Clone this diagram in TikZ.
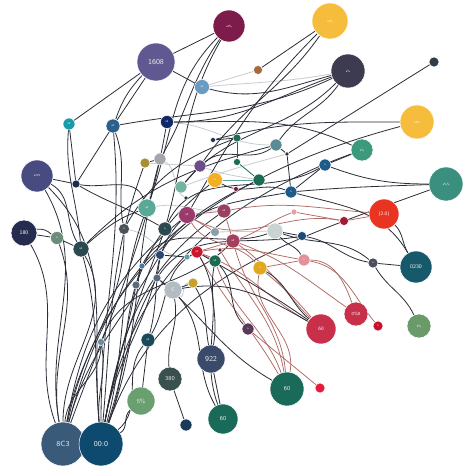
\documentclass[tikz,border=0pt]{standalone}
\usetikzlibrary{backgrounds}
\definecolor{cA}{HTML}{7D1B4B}\definecolor{cB}{HTML}{F6BD3D}\definecolor{cC}{HTML}{5F5891}
\definecolor{cD}{HTML}{3C3B4F}\definecolor{cE}{HTML}{2E3D4C}\definecolor{cF}{HTML}{A56B3E}
\definecolor{cG}{HTML}{6A9BC3}\definecolor{cI}{HTML}{1B9AAA}\definecolor{cJ}{HTML}{2D5F8B}
\definecolor{cK}{HTML}{10296B}\definecolor{cL}{HTML}{3B9A7C}\definecolor{cM}{HTML}{474B80}
\definecolor{cN}{HTML}{1B2D4C}\definecolor{cO}{HTML}{A88F34}\definecolor{cP}{HTML}{A3A7AA}
\definecolor{cQ}{HTML}{6A4D89}\definecolor{cR}{HTML}{F0B021}\definecolor{cS}{HTML}{74B3A2}
\definecolor{cT}{HTML}{1F2E55}\definecolor{cU}{HTML}{1D6B55}\definecolor{cW}{HTML}{5B8C93}
\definecolor{cY}{HTML}{1E5A8A}\definecolor{cZ}{HTML}{3A8F7F}\definecolor{cAC}{HTML}{5AA898}
\definecolor{cAD}{HTML}{9A3B6B}\definecolor{cAE}{HTML}{9A4162}\definecolor{cAF}{HTML}{7A1A3A}
\definecolor{cAH}{HTML}{EA3422}\definecolor{cAI}{HTML}{A31B30}\definecolor{cAJ}{HTML}{E8A0A8}
\definecolor{cAK}{HTML}{252C4F}\definecolor{cAL}{HTML}{6C8C7C}\definecolor{cAM}{HTML}{2A4A50}
\definecolor{cAN}{HTML}{4B5258}\definecolor{cAP}{HTML}{8AA0A8}\definecolor{cAQ}{HTML}{A3405F}
\definecolor{cAR}{HTML}{C9D3D2}\definecolor{cAS}{HTML}{1D4A72}\definecolor{cAT}{HTML}{C8192F}
\definecolor{cAU}{HTML}{1E6A50}\definecolor{cAW}{HTML}{2A4775}\definecolor{cAX}{HTML}{5AA0B0}
\definecolor{cAY}{HTML}{4A7AA0}\definecolor{cAZ}{HTML}{E1A71F}\definecolor{cBA}{HTML}{E2919B}
\definecolor{cBB}{HTML}{4A4E5A}\definecolor{cBC}{HTML}{16596A}\definecolor{cBD}{HTML}{B3BCC2}
\definecolor{cBE}{HTML}{C9A02F}\definecolor{cBF}{HTML}{5A6A7A}\definecolor{cBH}{HTML}{C8304A}
\definecolor{cBI}{HTML}{C8102A}\definecolor{cBK}{HTML}{6A9A6A}\definecolor{cBL}{HTML}{5A3A5A}
\definecolor{cBM}{HTML}{1A4A5A}\definecolor{cBN}{HTML}{6A8AA0}\definecolor{cBO}{HTML}{3A4A6A}
\definecolor{cBP}{HTML}{3A5050}\definecolor{cBQ}{HTML}{6AA070}\definecolor{cBR}{HTML}{1A6A5A}
\definecolor{cBS}{HTML}{E81A3A}\definecolor{cBU}{HTML}{1A3A5A}\definecolor{cBV}{HTML}{3A5A7A}
\definecolor{cBW}{HTML}{0E4A70}
\definecolor{edc}{HTML}{2B2D38}\definecolor{egc}{HTML}{C8CCCE}\definecolor{erc}{HTML}{B06A66}
\begin{document}
\begin{tikzpicture}[x=1pt,y=1pt,
  nd/.style={circle,draw=white,line width=0.5pt,inner sep=0pt,text=white,font=\sffamily\fontsize{3}{3}\selectfont},
  bigtxt/.style={font=\sffamily\fontsize{7.5}{8}\selectfont,text=white!85!gray},
  ed/.style={draw=edc,line width=0.8pt},
  eg/.style={draw=egc,line width=0.8pt},
  er/.style={draw=erc,line width=0.75pt}]
\useasboundingbox (0,0) rectangle (474,474);
% nodes
\node[nd,fill=cA,minimum size=32] (A) at (229,448) {a1\%};
\node[nd,fill=cB,minimum size=36] (B) at (330,453) {a1\%};
\node[nd,fill=cC,minimum size=38,bigtxt] (C) at (156,412) {1608};
\node[nd,fill=cD,minimum size=34] (D) at (348,403) {a\%};
\node[nd,fill=cE,minimum size=10] (E) at (434,412) {};
\node[nd,fill=cF,minimum size=9] (F) at (258,404) {};
\node[nd,fill=cG,minimum size=15] (G) at (202,387) {a1};
\node[nd,fill=cB,minimum size=34] (H) at (417,352) {a1\%};
\node[nd,fill=cI,minimum size=12] (I) at (69,350) {a1};
\node[nd,fill=cJ,minimum size=14] (J) at (113,348) {a1};
\node[nd,fill=cK,minimum size=13] (K) at (167,352) {a1};
\node[nd,fill=cL,minimum size=22] (L) at (362,324) {a\%};
\node[nd,fill=cM,minimum size=32] (M) at (37,298) {a175};
\node[nd,fill=cN,minimum size=8] (N) at (76,290) {};
\node[nd,fill=cO,minimum size=10] (O) at (145,311) {};
\node[nd,fill=cP,minimum size=12] (P) at (160,315) {};
\node[nd,fill=cQ,minimum size=12] (Q) at (200,308) {};
\node[nd,fill=cR,minimum size=15] (R) at (215,294) {a};
\node[nd,fill=cS,minimum size=12] (S) at (181,287) {};
\node[nd,fill=cT,minimum size=5] (T) at (213,334) {};
\node[nd,fill=cU,minimum size=8] (U) at (237,336) {};
\node[nd,fill=cU,minimum size=7] (V) at (237,312) {};
\node[nd,fill=cW,minimum size=12] (W) at (276,329) {};
\node[nd,fill=edc,minimum size=4] (X) at (287,320) {};
\node[nd,fill=cY,minimum size=12] (Y) at (325,309) {a};
\node[nd,fill=cZ,minimum size=34] (Z) at (446,290) {a\%\%};
\node[nd,fill=cU,minimum size=12] (AA) at (259,294) {};
\node[nd,fill=cY,minimum size=12] (AB) at (291,282) {a};
\node[nd,fill=cAC,minimum size=18] (AC) at (147,266) {a1};
\node[nd,fill=cAD,minimum size=17] (AD) at (187,259) {a1};
\node[nd,fill=cAE,minimum size=14] (AE) at (224,263) {a1};
\node[nd,fill=cAF,minimum size=5] (AF) at (236,285) {};
\node[nd,fill=edc,minimum size=4] (AG) at (186,276) {};
\node[nd,fill=cAH,minimum size=30,font=\sffamily\fontsize{5}{5}\selectfont] (AH) at (384,260) {(2.0)};
\node[nd,fill=cAI,minimum size=9] (AI) at (344,253) {};
\node[nd,fill=cAJ,minimum size=6] (AJ) at (294,262) {};
\node[nd,fill=cAK,minimum size=26,font=\sffamily\fontsize{5.5}{6}\selectfont] (AK) at (24,241) {180};
\node[nd,fill=cAL,minimum size=13] (AL) at (57,236) {a};
\node[nd,fill=cAM,minimum size=16] (AM) at (81,225) {a1};
\node[nd,fill=cAN,minimum size=11] (AN) at (124,245) {a};
\node[nd,fill=cAM,minimum size=14] (AO) at (165,245) {a};
\node[nd,fill=cAP,minimum size=9] (AP) at (215,242) {};
\node[nd,fill=cAQ,minimum size=14] (AQ) at (233,233) {a1};
\node[nd,fill=cAR,minimum size=16] (AR) at (275,243) {};
\node[nd,fill=cAS,minimum size=9] (AS) at (302,238) {};
\node[nd,fill=cAT,minimum size=12] (AT) at (197,222) {a1};
\node[nd,fill=cAU,minimum size=12] (AU) at (215,213) {a1};
\node[nd,fill=cAF,minimum size=4] (AV) at (220,224) {};
\node[nd,fill=cAW,minimum size=9] (AW) at (160,219) {};
\node[nd,fill=cAX,minimum size=6] (AX) at (187,217) {};
\node[nd,fill=cAY,minimum size=6] (AY) at (142,208) {};
\node[nd,fill=cAZ,minimum size=14] (AZ) at (260,206) {a};
\node[nd,fill=cBA,minimum size=12] (BA) at (304,214) {a};
\node[nd,fill=cBB,minimum size=10] (BB) at (373,211) {a};
\node[nd,fill=cBC,minimum size=32,font=\sffamily\fontsize{5.5}{6}\selectfont] (BC) at (416,207) {0230};
\node[nd,fill=cBD,minimum size=18,font=\sffamily\fontsize{5}{5}\selectfont] (BD) at (173,184) {C};
\node[nd,fill=cBE,minimum size=10] (BE) at (193,191) {};
\node[nd,fill=cBF,minimum size=8] (BF) at (157,196) {};
\node[nd,fill=cBF,minimum size=8] (BG) at (136,189) {};
\node[nd,fill=cBH,minimum size=24,font=\sffamily\fontsize{4.5}{5}\selectfont] (BH) at (356,160) {0\%0};
\node[nd,fill=cBI,minimum size=10] (BI) at (378,148) {a};
\node[nd,fill=cBH,minimum size=30,font=\sffamily\fontsize{5}{5}\selectfont] (BJ) at (321,145) {60};
\node[nd,fill=cBK,minimum size=24] (BK) at (419,148) {5\%};
\node[nd,fill=cBL,minimum size=12] (BL) at (248,145) {a};
\node[nd,fill=cBM,minimum size=14] (BM) at (148,134) {a1};
\node[nd,fill=cBN,minimum size=7] (BN) at (101,132) {};
\node[nd,fill=cBO,minimum size=28,bigtxt] (BO) at (211,115) {922};
\node[nd,fill=cBP,minimum size=24,font=\sffamily\fontsize{6}{6}\selectfont,text=white!85!gray] (BP) at (170,95) {380};
\node[nd,fill=cBQ,minimum size=28,font=\sffamily\fontsize{6}{6}\selectfont,text=white!85!gray] (BQ) at (141,73) {5\%};
\node[nd,fill=cBR,minimum size=34,font=\sffamily\fontsize{6}{6}\selectfont,text=white!85!gray] (BR) at (287,85) {60};
\node[nd,fill=cBS,minimum size=10] (BS) at (320,86) {};
\node[nd,fill=cBR,minimum size=30,font=\sffamily\fontsize{6}{6}\selectfont,text=white!85!gray] (BT) at (223,55) {60};
\node[nd,fill=cBU,minimum size=12] (BU) at (186,49) {};
\node[nd,fill=cBV,minimum size=44,bigtxt] (BV) at (63,30) {8C3};
\node[nd,fill=cBW,minimum size=44,bigtxt] (BW) at (101,30) {00:0};
% edges
\begin{scope}[on background layer]
\fill[white] (0,0) rectangle (474,474);
% gray
\draw[eg] (F) -- (G);
\draw[eg] (D) to[out=190,in=5] (G);
\draw[eg] (P) -- (AC);
\draw[eg] (O) -- (Q);
\draw[eg] (X) to[out=195,in=20] (S);
\draw[eg] (AP) -- (AR);
\draw[eg] (K) to[out=-5,in=180] (W);
\draw[eg] (P) to[out=-30,in=150] (AG);
\draw[eg] (AC) to[out=10,in=180] (AE);
\draw[eg] (AN) to[out=-10,in=180] (AX);
\draw[eg] (BD) to[out=-40,in=180] (BE);
\draw[eg] (Q) to[out=-20,in=170] (AA);
% dark top
\draw[ed] (C) -- (A);
\draw[ed] (C) -- (I);
\draw[ed] (C) -- (J);
\draw[ed] (C) to[bend right=12] (J);
\draw[ed] (C) -- (G);
\draw[ed] (A) to[out=235,in=60] (P);
\draw[ed] (A) to[out=240,in=75] (AO);
\draw[ed] (A) to[out=225,in=70] (AC);
\draw[ed] (B) -- (F);
\draw[ed] (B) to[out=225,in=60] (AD);
\draw[ed] (B) to[out=235,in=55] (Q);
\draw[ed] (D) to[out=195,in=-15] (G);
\draw[ed] (D) to[out=200,in=0] (K);
\draw[ed] (D) to[out=205,in=10] (J);
\draw[ed] (D) to[out=235,in=55] (W);
\draw[ed] (D) to[out=225,in=50] (S);
\draw[ed] (E) -- (X);
\draw[ed] (X) -- (AB);
\draw[ed] (X) -- (W);
\draw[ed] (H) to[out=180,in=15] (T);
\draw[ed] (L) to[out=155,in=0] (K);
\draw[ed] (Y) -- (L);
\draw[ed] (Y) -- (AB);
\draw[ed] (Y) to[out=-20,in=180] (Z);
\draw[ed] (AB) to[out=5,in=182] (Z);
\draw[ed] (W) to[out=215,in=40] (Q);
\draw[ed] (U) -- (T);
\draw[ed,draw=cU] (U) -- (V);
\draw[ed,draw=cU] (V) -- (AA);
\draw[ed,draw=cAC] (AA) -- (R);
\draw[ed] (O) -- (P);
\draw[ed] (Q) -- (S);
\draw[ed] (R) to[out=-30,in=160] (AB);
% left
\draw[ed] (I) -- (N);
\draw[ed] (J) -- (N);
\draw[ed] (M) -- (N);
\draw[ed] (N) to[out=-10,in=110] (AC);
\draw[ed] (N) to[out=-30,in=150] (AO);
\draw[ed] (J) to[out=-70,in=100] (AN);
\draw[ed] (J) to[out=-85,in=90] (BW);
\draw[ed] (I) to[out=-95,in=95] (AM);
\draw[ed] (M) to[out=-60,in=100] (BV);
\draw[ed] (M) to[out=-30,in=120] (AM);
\draw[ed] (M) to[out=-45,in=95] (BW);
\draw[ed] (AK) -- (AL);
\draw[ed] (AL) -- (AM);
\draw[ed] (AK) to[bend left=25] (AL);
\draw[ed] (AK) to[out=-60,in=110] (BV);
\draw[ed] (AL) to[out=-70,in=100] (BV);
\draw[ed] (AM) to[out=-75,in=95] (BW);
\draw[ed] (AM) to[out=-60,in=90] (BV);
\draw[ed] (AM) to[out=40,in=200] (AC);
\draw[ed] (AN) to[out=-90,in=80] (BV);
\draw[ed] (AO) to[out=-110,in=80] (BW);
\draw[ed] (AC) to[out=-110,in=75] (BW);
\draw[ed] (AW) to[out=-120,in=75] (BV);
\draw[ed] (K) to[out=-100,in=70] (BV);
\draw[ed] (P) to[out=-105,in=70] (BW);
\draw[ed] (AY) to[out=-110,in=70] (BW);
\draw[ed] (BF) to[out=-120,in=72] (BW);
\draw[ed] (BG) to[out=-100,in=80] (BW);
\draw[ed] (BN) to[out=-90,in=85] (BV);
\draw[ed] (BN) to[out=-80,in=95] (BW);
\draw[ed] (O) to[out=-110,in=85] (BW);
\draw[ed] (AW) to[out=-100,in=80] (BW);
% sweeping arcs
\draw[ed] (BW) to[out=80,in=200] (L);
\draw[ed] (BV) to[out=78,in=195] (H);
\draw[ed] (BW) to[out=70,in=200] (Z);
\draw[ed] (AM) to[out=45,in=195] (W);
\draw[ed] (AN) to[out=60,in=200] (U);
\draw[ed] (AO) to[out=65,in=210] (Y);
\draw[ed] (AW) to[out=60,in=190] (AB);
\draw[ed] (AY) to[out=65,in=200] (AR);
\draw[ed] (BF) to[out=55,in=190] (AS);
\draw[ed] (BG) to[out=70,in=220] (R);
\draw[ed] (BW) to[out=80,in=215] (AE);
\draw[ed] (BV) to[out=80,in=220] (AD);
\draw[ed] (BN) to[out=70,in=225] (AQ);
\draw[ed] (BV) to[out=75,in=205] (AA);
\draw[ed] (AW) -- (AX);
\draw[ed] (AX) -- (AT);
\draw[ed] (BF) -- (BD);
\draw[ed] (BE) -- (BD);
% red / reddish
\draw[er] (AD) -- (AE);
\draw[er] (AD) -- (AP);
\draw[er] (AE) -- (AQ);
\draw[er] (AE) to[out=10,in=175] (AH);
\draw[er] (AI) -- (AH);
\draw[er] (AJ) -- (AI);
\draw[er] (AQ) to[out=20,in=200] (AJ);
\draw[er] (AQ) to[out=-20,in=145] (BH);
\draw[er] (AQ) to[out=-35,in=135] (BJ);
\draw[er] (AT) to[out=-20,in=150] (BJ);
\draw[er] (AT) -- (AQ);
\draw[er] (AT) to[out=10,in=170] (BA);
\draw[er] (AZ) -- (BA);
\draw[er] (AZ) to[out=-40,in=130] (BJ);
\draw[er] (BA) to[out=0,in=110] (BH);
\draw[er] (BA) to[out=-10,in=130] (BI);
\draw[er] (AD) to[out=-30,in=170] (AI);
\draw[er] (AU) to[out=-70,in=110] (BR);
\draw[er] (AV) to[out=-60,in=100] (BR);
\draw[er] (AT) to[out=-60,in=120] (BR);
\draw[er] (AQ) to[out=-75,in=95] (BR);
\draw[er] (AZ) to[out=-100,in=80] (BR);
\draw[er] (BL) -- (BS);
\draw[er] (AT) -- (AU);
\draw[er] (AD) to[out=-60,in=130] (AZ);
% dark right-middle
\draw[ed] (AR) -- (AS);
\draw[ed] (AS) to[out=-10,in=170] (BB);
\draw[ed] (BB) -- (BC);
\draw[ed] (AR) to[out=-50,in=120] (BA);
\draw[ed] (BB) to[out=-60,in=115] (BK);
\draw[ed] (AH) to[out=-45,in=120] (BC);
\draw[ed] (AB) to[out=-15,in=120] (BC);
\draw[ed] (AR) to[out=-20,in=140] (BB);
\draw[ed] (AZ) to[out=-30,in=140] (BJ);
\draw[ed] (AT) to[out=-30,in=145] (BJ);
\draw[ed] (BD) to[out=10,in=150] (BJ);
% bottom
\draw[ed] (BO) -- (BT);
\draw[ed] (BP) -- (BU);
\draw[ed] (BQ) -- (BM);
\draw[ed] (BW) to[out=40,in=230] (BM);
\draw[ed] (BW) to[out=30,in=220] (BQ);
\draw[ed] (BM) to[out=60,in=210] (AT);
\draw[ed] (BM) to[out=75,in=225] (AD);
\draw[ed] (BP) to[out=95,in=-80] (BD);
\draw[ed] (BO) to[out=100,in=-60] (BE);
\draw[ed] (BT) to[out=120,in=-50] (BD);
\draw[ed] (BT) to[out=110,in=-60] (AT);
\draw[ed] (BR) to[out=150,in=-40] (BF);
\draw[ed] (BL) to[out=135,in=-45] (AU);
\draw[ed] (BO) to[out=80,in=-100] (AU);
\end{scope}
\end{tikzpicture}
\end{document}
